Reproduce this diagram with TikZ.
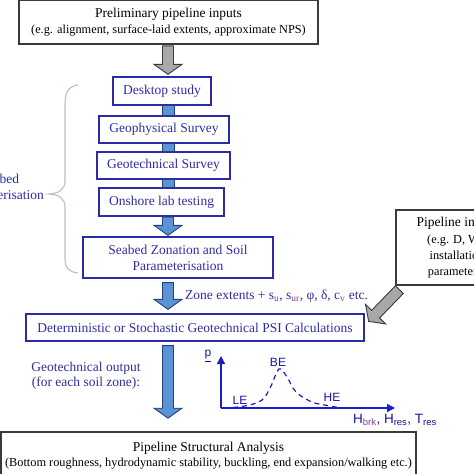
\documentclass[tikz,border=0pt]{standalone}
\usepackage{fontspec}
\setmainfont{Liberation Serif}
\newfontfamily\arialf{Liberation Sans}
\usetikzlibrary{calc,arrows.meta}
\definecolor{bluetxt}{HTML}{2E2EA0}
\definecolor{boxblue}{HTML}{2B2BAA}
\definecolor{connfill}{HTML}{5A93D6}
\definecolor{connedge}{HTML}{24407A}
\definecolor{grayfill}{HTML}{A8A8A8}
\definecolor{grayedge}{HTML}{3A3A3A}
\definecolor{bracecol}{HTML}{B4C2CC}
\definecolor{subcol}{HTML}{8A3A9A}
\definecolor{graphblue}{HTML}{1C1CCC}
\newcommand\fs{\fontsize{13.5}{16}\selectfont}
\newcommand\fsm{\fontsize{12.3}{15}\selectfont}
\newcommand\gs{\fontsize{12}{14}\selectfont}
% fat arrow: style, start, tip
\newcommand\fatarrow[3]{%
  \coordinate (faA) at (#2);
  \coordinate (faB) at (#3);
  \coordinate (faH) at ($(faB)!10pt!(faA)$);
  \path[#1] ($(faA)!5.5pt!90:(faB)$) -- ($(faH)!5.5pt!-90:(faA)$)
    -- ($(faH)!14pt!-90:(faA)$) -- (faB) -- ($(faH)!14pt!90:(faA)$)
    -- ($(faH)!5.5pt!90:(faA)$) -- ($(faA)!5.5pt!-90:(faB)$) -- cycle;}
\tikzset{
  graybox/.style={draw=grayedge, line width=1.6pt, fill=white, align=center, font=\fs, inner sep=0pt},
  bluebox/.style={draw=boxblue, line width=1.3pt, fill=white, text=bluetxt, align=center, font=\fs, inner sep=0pt},
  grayarrow/.style={draw=grayedge, line width=0.9pt, fill=grayfill, line join=miter},
  bluearrow/.style={draw=connedge, line width=0.9pt, fill=connfill, line join=miter},
  conn/.style={draw=connedge, line width=0.8pt, fill=connfill},
  bluelabel/.style={text=bluetxt, font=\fs, align=center, inner sep=0pt},
  glabel/.style={text=graphblue!80!black, font=\arialf\gs, inner sep=0pt},
  axis/.style={draw=graphblue, line width=1.4pt, -{Triangle[width=8pt,length=8pt]}},
}
\begin{document}
\begin{tikzpicture}[x=1pt,y=-1pt]
\useasboundingbox (0,0) rectangle (474,474);
\fill[white] (0,0) rectangle (474,474);
\clip (0,0) rectangle (474,474);
\coordinate (spine) at (168,0);

% boxes
\node[graybox, minimum width=299, minimum height=44] (prelim) at (168.5,22)
  {Preliminary pipeline inputs\\[-0.5pt]{\fsm (e.g. alignment, surface-laid extents, approximate NPS)}};
\node[bluebox, minimum width=98, minimum height=28] (desk) at (162,91) {Desktop study};
\node[bluebox, minimum width=130, minimum height=27] (geoph) at (164,129.5) {Geophysical Survey};
\node[bluebox, minimum width=133, minimum height=27] (geotech) at (163.5,165.5) {Geotechnical Survey};
\node[bluebox, minimum width=125, minimum height=28] (onshore) at (161.5,202) {Onshore lab testing};
\node[bluebox, minimum width=190, minimum height=41] (seabed) at (178,257.5) {Seabed Zonation and Soil\\Parameterisation};
\node[bluebox, minimum width=338, minimum height=27] (determ) at (195,327.5) {Deterministic or Stochastic Geotechnical PSI Calculations};
\node[graybox, line width=1.3pt, minimum width=122, minimum height=75, font=\fontsize{13.5}{16}\selectfont] (pin) at (457,247.5)
  {Pipeline inputs\\[1pt]{\fsm (e.g. D, W\textsubscript{s},}\\{\fsm installation}\\{\fsm parameters)}};
\node[graybox, minimum width=415, minimum height=48] (bottom) at (208.5,456)
  {Pipeline Structural Analysis\\[-1pt]{\fsm (Bottom roughness, hydrodynamic stability, buckling, end expansion/walking etc.)}};

% connectors between the characterisation steps
\draw[conn] ($(desk.south -| spine)+(-6,0)$) rectangle ($(geoph.north -| spine)+(6,0)$);
\draw[conn] ($(geoph.south -| spine)+(-6,0)$) rectangle ($(geotech.north -| spine)+(6,0)$);
\draw[conn] ($(geotech.south -| spine)+(-6,0)$) rectangle ($(onshore.north -| spine)+(6,0)$);

% fat arrows
\fatarrow{grayarrow}{$(prelim.south -| spine)+(0,1)$}{$(desk.north -| spine)+(0,-2)$}
\fatarrow{bluearrow}{$(onshore.south -| spine)+(0,0.6)$}{$(seabed.north -| spine)+(0,-1)$}
\fatarrow{bluearrow}{$(seabed.south -| spine)+(0,4)$}{$(determ.north -| spine)+(0,-4)$}
\fatarrow{bluearrow}{$(determ.south -| spine)+(0,4)$}{$(bottom.north -| spine)+(0,-13)$}
\fatarrow{grayarrow}{$(pin.south west)+(4,4)$}{$(determ.north east)+(4,8)$}

% brace
\draw[bracecol, line width=1.1pt] (78,85) .. controls (69,86) and (65,92) .. (65,104)
  -- (65,181) .. controls (65,190) and (58,193.5) .. (49,194)
  .. controls (58,194.5) and (65,198) .. (65,207)
  -- (65,259) .. controls (65,268) and (69,272) .. (78,273);
\node[bluelabel, anchor=east] (charlbl) at (44,186.5) {Seabed\\Characterisation};

% labels
\node[bluelabel, anchor=west] (zone) at (185,296)
  {Zone extents + s\textsubscript{\textcolor{subcol}{u}}, s\textsubscript{\textcolor{subcol}{ur}}, φ, δ, c\textsubscript{\textcolor{subcol}{v}} etc.};
\node[bluelabel, font=\fontsize{13.5}{15}\selectfont] (geoout) at (86,376)
  {Geotechnical output\\(for each soil zone):};

% graph
\coordinate (origin) at (221,408);
\coordinate (ytop) at (221,356);
\coordinate (xend) at (395,408);
\draw[axis] (origin) -- (ytop);
\draw[axis] (origin) -- (xend);
\draw[graphblue, line width=1.2pt, dash pattern=on 5pt off 4pt]
  plot[smooth, tension=0.6] coordinates {(224,408) (245,406) (262,400) (271,386) (279,369) (287,377) (296,392) (312,402) (330,406) (342,408)};
\node[glabel] (plbl) at (208,356) {\underline{p}};
\node[glabel] (be) at (278,362) {BE};
\node[glabel] (le) at (240,400) {LE};
\node[glabel] (he) at (332,397) {HE};
\node[glabel, font=\arialf\fontsize{13.5}{15}\selectfont, anchor=west] (hlbl) at (353,420)
  {H\textsubscript{\textcolor{subcol}{brk}}, H\textsubscript{res}, T\textsubscript{res}};
\end{tikzpicture}
\end{document}
